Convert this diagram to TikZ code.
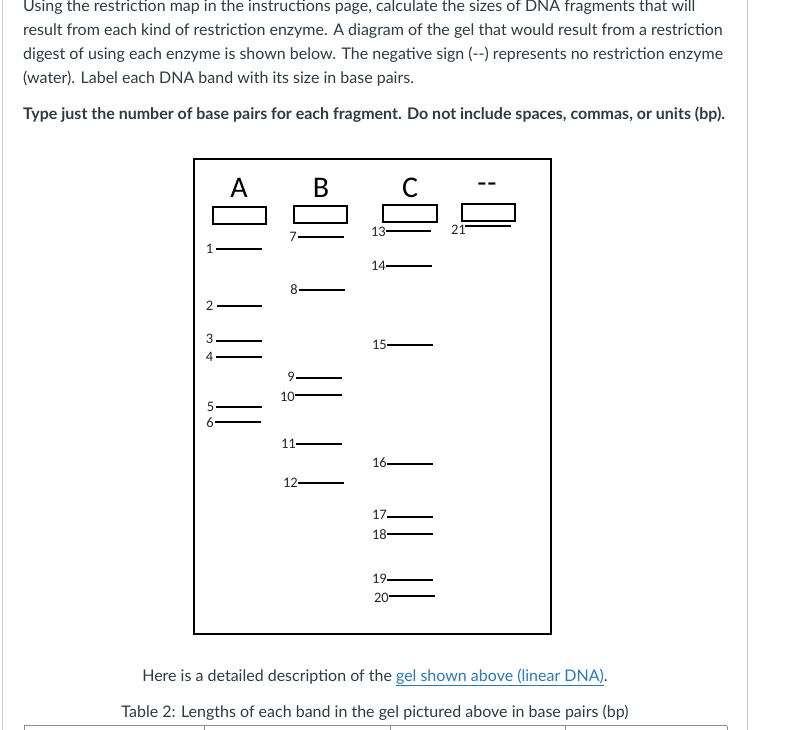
\documentclass[tikz,border=0pt]{standalone}
\usepackage{fontspec}
\setmainfont{Lato}
\newfontfamily\calfont{Carlito}
\definecolor{txt}{HTML}{2D3B45}
\definecolor{lnk}{HTML}{2A7AB8}
\definecolor{frame}{HTML}{C7CDD1}
\definecolor{tbl}{HTML}{8A8F94}
\begin{document}
\begin{tikzpicture}[x=1pt,y=-1pt,
  para/.style={anchor=base west,inner sep=0,font=\fontsize{16}{19}\selectfont,text=txt},
  parac/.style={anchor=base,inner sep=0,font=\fontsize{16}{19}\selectfont,text=txt},
  lane/.style={inner sep=0,font=\calfont\fontsize{30}{30}\selectfont},
  well/.style={draw,line width=1.6pt},
  gelbox/.style={draw,line width=1.8pt},
  bandline/.style={line width=1.5pt},
  num/.style={inner sep=0,anchor=east,font=\calfont\fontsize{14.5}{15}\selectfont,text=black!85}]
\useasboundingbox (0,0) rectangle (793,730);
\fill[white] (0,0) rectangle (793,730);
% page frame
\draw[frame,line width=1pt] (2.5,0) -- (2.5,730);
\draw[frame,line width=1pt] (747,0) -- (747,730);
% paragraph
\node[para] (p1) at (23,12) {Using the restriction map in the instructions page, calculate the sizes of DNA fragments that will};
\node[para] (p2) at (23,36) {result from each kind of restriction enzyme. A diagram of the gel that would result from a restriction};
\node[para] (p3) at (23,60) {digest of using each enzyme is shown below. The negative sign (-\kern0pt-) represents no restriction enzyme};
\node[para] (p4) at (23,84) {(water). Label each DNA band with its size in base pairs.};
\node[para,font=\fontsize{16}{19}\selectfont\bfseries] (p5) at (23,120) {Type just the number of base pairs for each fragment. Do not include spaces, commas, or units (bp).};
% gel
\draw[gelbox] (194,159) rectangle (551,634);
\node[lane] (la) at (239,188) {A};
\node[lane] (lb) at (321,188) {B};
\node[lane] (lc) at (410,188) {C};
\node[lane] (ld) at (487,188) {-\kern1pt-};
\draw[well] (213,207) rectangle (266,224);
\draw[well] (294,206) rectangle (347,223);
\draw[well] (383,205) rectangle (437,222);
\draw[well] (462,204) rectangle (515,221);
% bands: label, label x (east), label y, x1, x2, y
\foreach \t/\lx/\ly/\xa/\xb/\yy in {
 1/213.5/249/216/262/249, 2/213.5/306/217/262/306, 3/213.5/339/216/262/341,
 4/213.5/357/216/262/357, 5/214.5/407/216/262/407, 6/214/423/215/261/422,
 7/297/237/298/344/237, 8/298/290/299/345/290, 9/295/377/296/342/378,
 10/295/397/295/342/395, 11/296/444/296/342/444, 12/298/483/298/344/483,
 13/386/232/386/431/231, 14/386/266/386/432/266, 15/387/345/387/433/345,
 16/387/463/387/433/464, 17/387/515/387/433/517, 18/387/535/387/433/534,
 19/387/579/387/433/580, 20/389/598/389/435/596, 21/466/230/465/511/226}{
  \coordinate (s\t) at (\xa,\yy);
  \coordinate (e\t) at (\xb,\yy);
  \draw[bandline] (s\t) -- (e\t);
  \node[num] (n\t) at (\lx,\ly) {\t};
}
% bottom text
\node[parac] (d1) at (375,681) {Here is a detailed description of the {\color{lnk}\underline{gel shown above (linear DNA)}}.};
\node[parac] (d2) at (375,717) {Table 2: Lengths of each band in the gel pictured above in base pairs (bp)};
% table top
\coordinate (t0) at (24,725.5);
\coordinate (t4) at (727,725.5);
\draw[tbl,line width=1pt] (t0) -- (t4);
\foreach \xx in {24,204,390,565,727}{
  \draw[tbl,line width=1pt] (\xx,725.5) -- (\xx,730);
}
\end{tikzpicture}
\end{document}
